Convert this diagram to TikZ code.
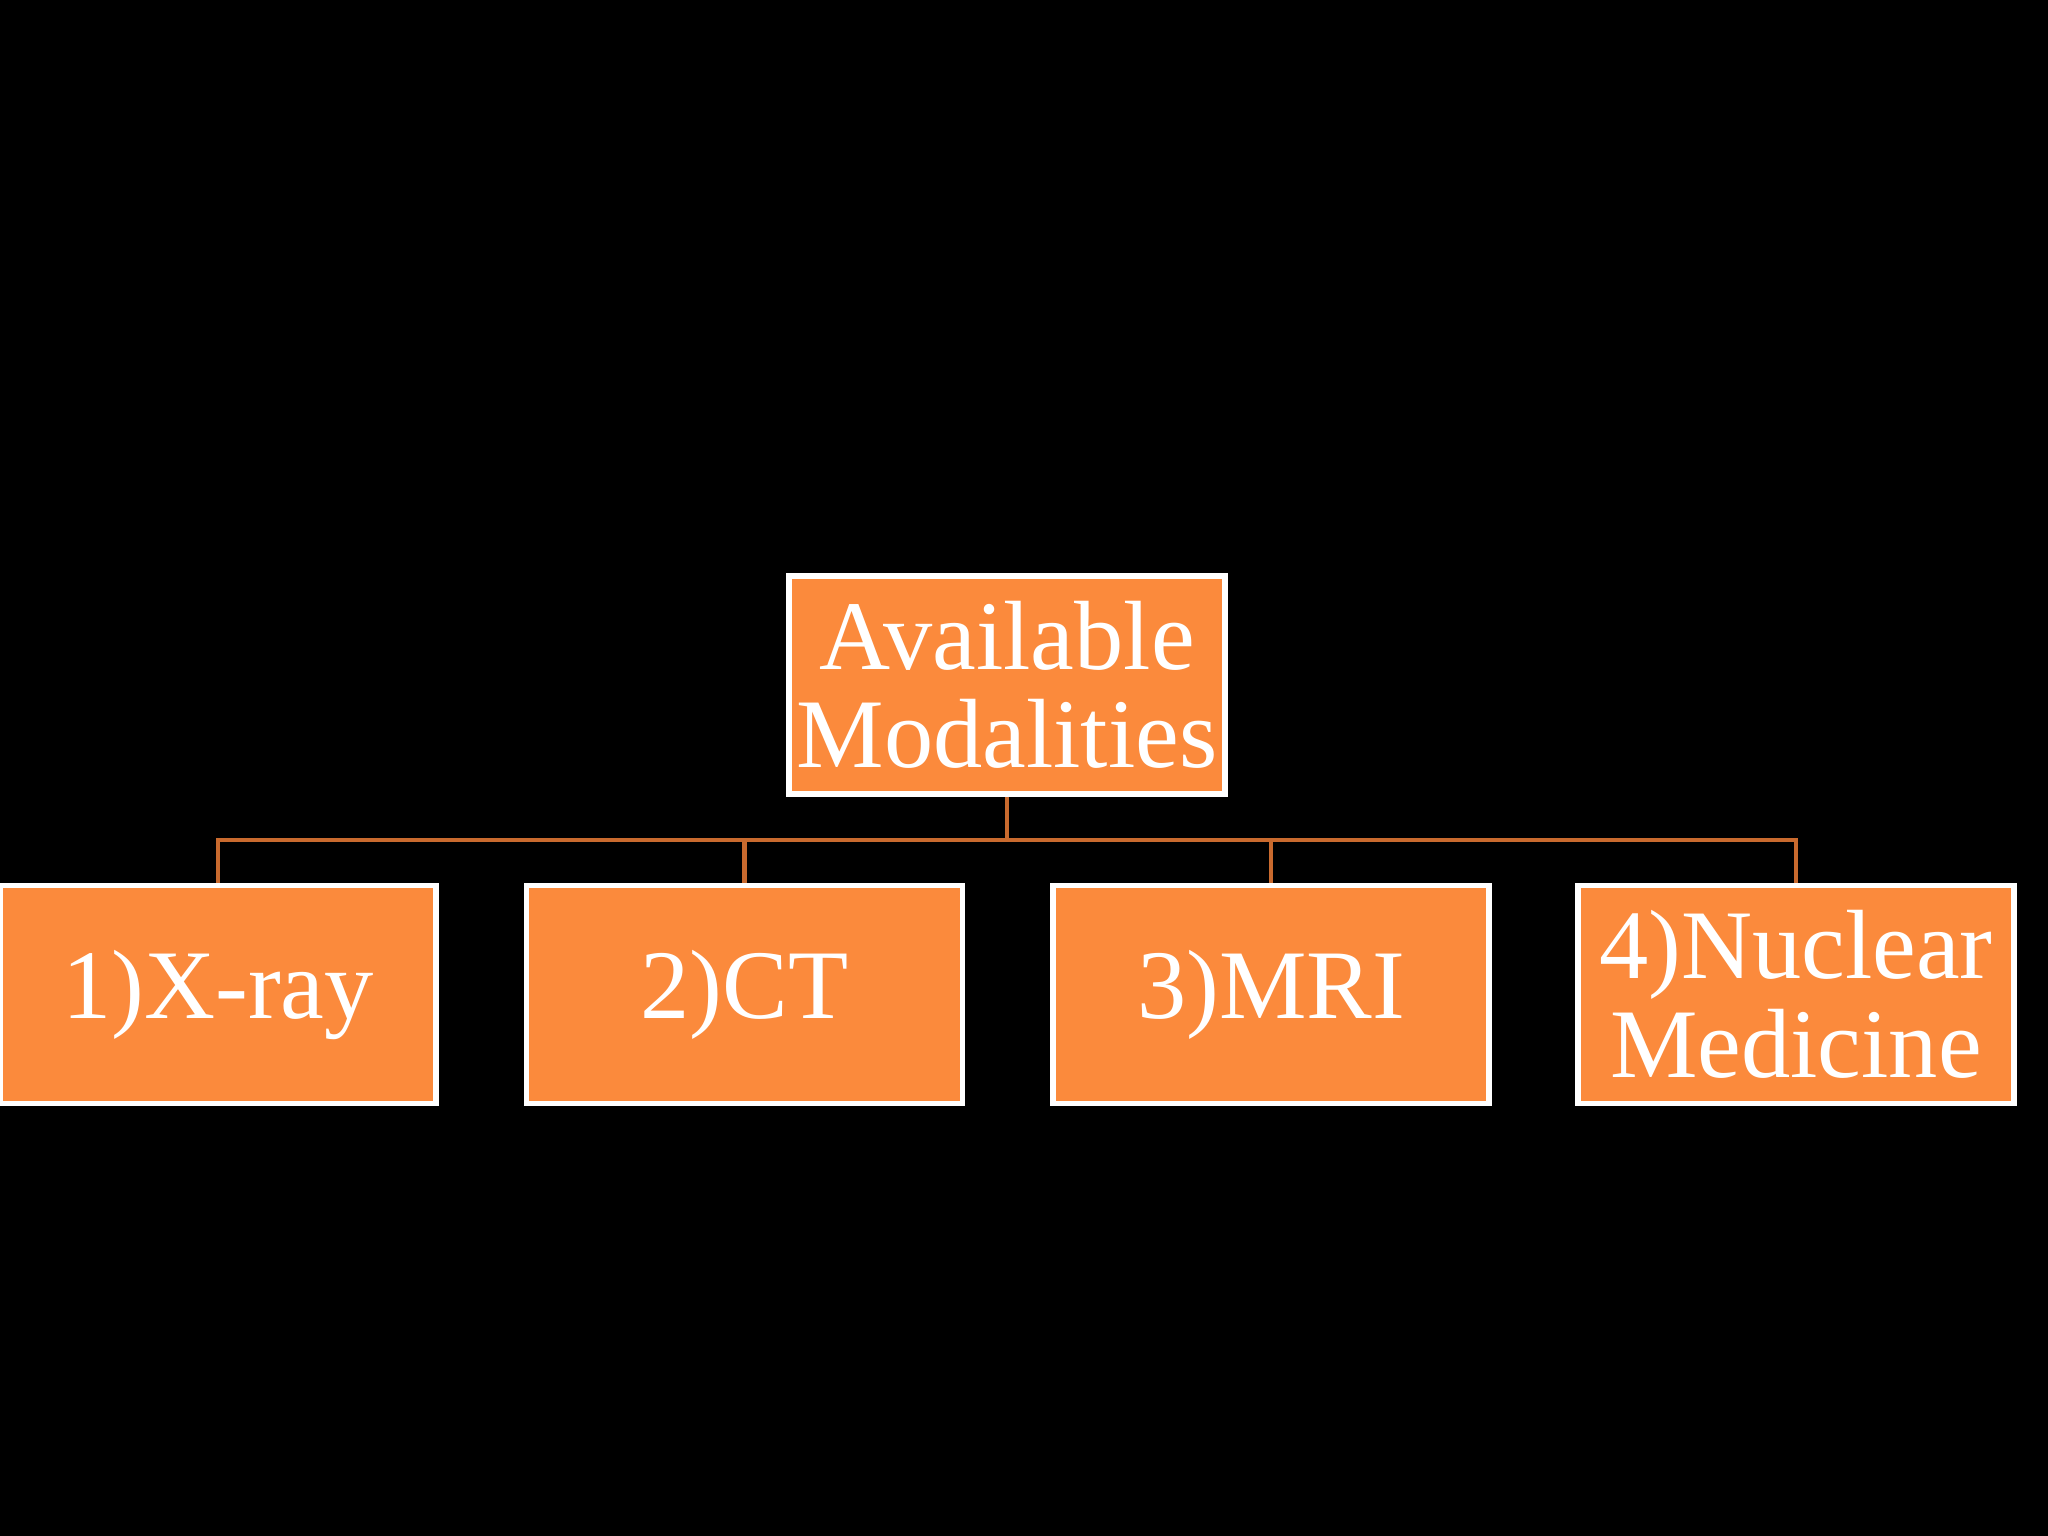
\documentclass[tikz,border=0pt]{standalone}
\usepackage{fontspec}
\setmainfont{Liberation Serif}
\definecolor{boxfill}{HTML}{FB8A3C}
\definecolor{linkc}{HTML}{C96A2E}
\begin{document}
\begin{tikzpicture}
\fill[black] (0,0) rectangle (20.48,-15.36);
\useasboundingbox (0,0) rectangle (20.48,-15.36);
\tikzset{box/.style={draw=white,line width=1.6pt,fill=boxfill,text=white,minimum width=4.36cm,minimum height=2.18cm,inner sep=2pt,align=center,font=\fontsize{28}{28}\selectfont},
link/.style={draw=linkc,line width=1.4pt}}
\node[box] (top) at (10.07,-6.85) {Available\\Modalities};
\node[box] (a) at (2.18,-9.945) {1)X-ray};
\node[box] (b) at (7.445,-9.945) {2)CT};
\node[box] (c) at (12.71,-9.945) {3)MRI};
\node[box] (d) at (17.96,-9.945) {4)Nuclear\\Medicine};
\coordinate (bus) at (10.07,-8.40);
\draw[link] (top.south) -- (bus);
\foreach \n in {a,b,c,d}{\draw[link] (bus) -| (\n.north);}
\end{tikzpicture}
\end{document}
